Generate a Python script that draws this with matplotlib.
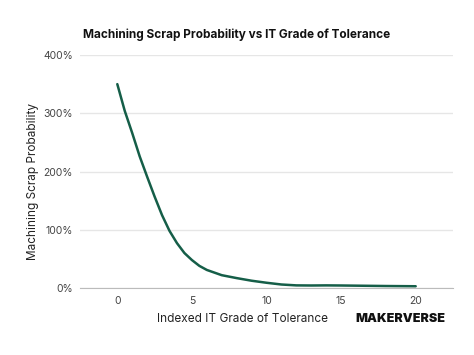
import matplotlib.pyplot as plt
from matplotlib.ticker import FuncFormatter

it_grade = [0, 0.5, 1, 1.5, 2, 2.5, 3, 3.5, 4, 4.5, 5, 5.5, 6, 7, 8, 9, 10, 11, 12, 13, 14, 15, 16, 17, 18, 19, 20]
scrap_pct = [350, 304, 266, 226, 191, 157, 125, 98, 77, 60, 48, 38, 31, 22, 17, 12.5, 9, 6, 4.5, 4.3, 4.5, 4.3, 4, 3.7, 3.4, 3.2, 3]
x_ticks = [0, 5, 10, 15, 20]
y_ticks = [0, 100, 200, 300, 400]

plt.rcParams['font.family'] = ['Inter', 'DejaVu Sans']

fig = plt.figure(figsize=(4.74, 3.55), dpi=100)
ax = fig.add_axes([80/474, 1-288/355, 373/474, 233/355])

ax.plot(it_grade, scrap_pct, color='#155e48', linewidth=1.8, solid_capstyle='round')

ax.set_xlim(-2.5, 22.5)
ax.set_ylim(0, 400)
ax.set_xticks(x_ticks)
ax.set_yticks(y_ticks)
ax.yaxis.set_major_formatter(FuncFormatter(lambda v, p: f'{int(v)}%'))
ax.tick_params(length=0, labelsize=7.5, colors='#444444')
ax.tick_params(axis='x', pad=6)
ax.tick_params(axis='y', pad=5)
ax.grid(axis='y', color='#e6e6e6', linewidth=1)
ax.set_axisbelow(True)
for s in ['top', 'right', 'left']:
    ax.spines[s].set_visible(False)
ax.spines['bottom'].set_color('#bbbbbb')

fig.text(33/474, 1-182/355, 'Machining Scrap Probability', rotation=90,
         ha='center', va='center', fontsize=8.5, color='#222222')
fig.text(243/474, 1-319/355, 'Indexed IT Grade of Tolerance',
         ha='center', va='center', fontsize=8.5, color='#222222')

fig.text(237/474, 1-35/355, 'Machining Scrap Probability vs IT Grade of Tolerance',
         ha='center', va='center', fontsize=8.5, fontweight='bold', color='#111111')
fig.text(400/474, 1-319/355, 'MAKERVERSE', ha='center', va='center',
         fontsize=9, fontweight='black', color='#111111')

fig.savefig('out.png', dpi=100, facecolor='white')
